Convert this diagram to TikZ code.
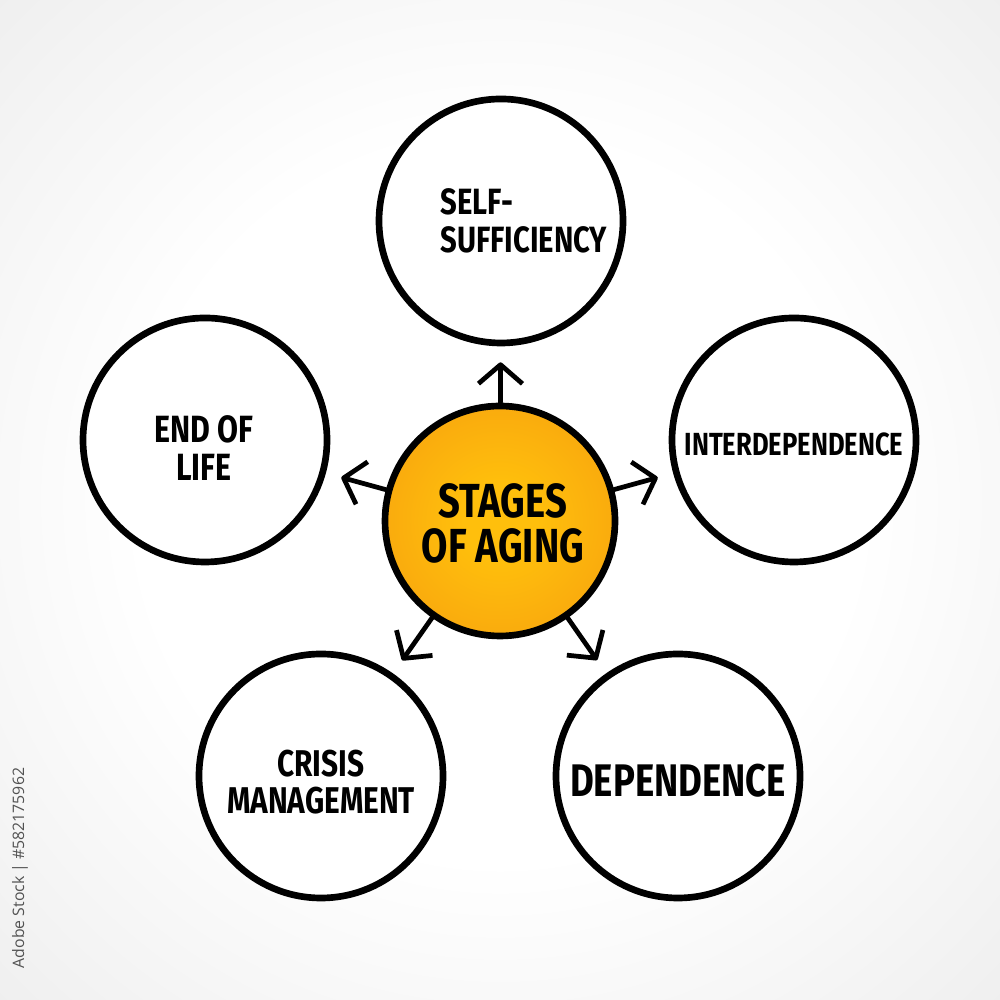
\documentclass[tikz,border=0pt]{standalone}
\usepackage{fontspec}
\usetikzlibrary{arrows.meta}
\newfontfamily\handfont[FakeStretch=0.8, BoldFeatures={FakeStretch=0.8}]{Fira Sans}
\newfontfamily\markfont{Open Sans}
\definecolor{stagecore}{HTML}{FFBF0C}
\definecolor{stagerim}{HTML}{F28E10}
\definecolor{bgedge}{HTML}{E2E2E2}
\pgfdeclareradialshading{bgglow}{\pgfpoint{0bp}{0bp}}{color(0bp)=(white); color(18bp)=(white); color(50bp)=(bgedge); color(72bp)=(bgedge!92!black)}
\pgfdeclareradialshading{coreglow}{\pgfpoint{0bp}{0bp}}{color(0bp)=(stagecore); color(8bp)=(stagecore); color(50bp)=(stagerim)}

\begin{document}
\begin{tikzpicture}[
  stage/.style={circle, draw, line width=1.9pt, fill=white, minimum size=2.44cm, inner sep=0pt},
  core/.style={stage, minimum size=2.30cm, shade, shading=coreglow},
  caption/.style 2 args={align=center, inner sep=0pt, font=\handfont\bfseries\fontsize{#1}{#2}\selectfont},
  spoke/.style={-{Straight Barb[length=1.9mm, width=4.4mm, line join=round]}, line width=1.35pt, line cap=round, shorten >=0.16cm}
]
\useasboundingbox (0,0) rectangle (10,10);
\shade[shading=bgglow] (0,0) rectangle (10,10);

\path (5.00,4.79) node[core] (aging) {}
      (5.01,7.79) node[stage] (self) {}
      (7.94,5.60) node[stage] (inter) {}
      (6.78,2.24) node[stage] (dep) {}
      (3.21,2.24) node[stage] (crisis) {}
      (2.05,5.60) node[stage] (eol) {};

\path (5.03,4.77) node[caption={13.6}{12.8}] (agingtext) {STAGES\\OF AGING}
      (5.24,7.79) node[caption={10.4}{11}, align=left] (selftext) {SELF-\\SUFFICIENCY}
      (7.94,5.56) node[caption={9.1}{9}] (intertext) {INTERDEPENDENCE}
      (6.78,2.19) node[caption={13}{13}] (deptext) {DEPENDENCE}
      (3.21,2.18) node[caption={10.6}{10.6}] (crisistext) {CRISIS\\MANAGEMENT}
      (2.04,5.52) node[caption={10.8}{10.8}] (eoltext) {END OF\\LIFE};

\draw[spoke] (aging) to (self);
\draw[spoke] (aging) to (inter);
\draw[spoke] (aging) to (dep);
\draw[spoke] (aging) to (crisis);
\draw[spoke] (aging) to (eol);

\node[rotate=90, inner sep=0pt, text=black!68, font=\markfont\fontsize{4.5}{5}\selectfont] (stockid) at (0.2,1.32) {Adobe Stock | \#582175962};
\end{tikzpicture}
\end{document}
